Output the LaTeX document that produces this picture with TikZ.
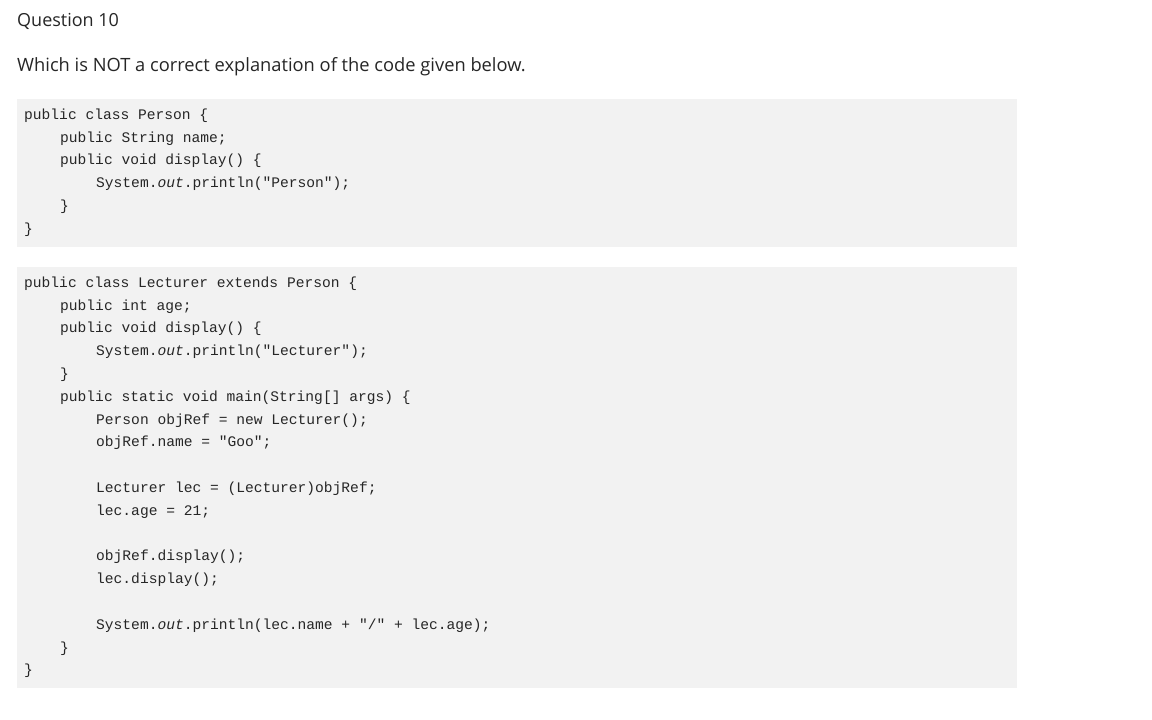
\documentclass[tikz,border=0pt]{standalone}
\usepackage{fontspec}
\setmainfont{Open Sans}
\setmonofont{Liberation Mono}
\begin{document}
\begin{tikzpicture}[x=1pt,y=-1pt,
  code/.style={anchor=west,inner sep=0pt,font=\fontsize{14.6}{16}\ttfamily,text=black!85},
  txt/.style={anchor=west,inner sep=0pt,text=black!85}]
\useasboundingbox (0,0) rectangle (1152,720);
\fill[white] (0,0) rectangle (1152,720);
\node[txt,font=\fontsize{18}{20}\selectfont] (t) at (17,21) {Question 10};
\node[txt,font=\fontsize{18.3}{20}\selectfont] (q) at (17,67) {Which is NOT a correct explanation of the code given below.};
\fill[black!5] (17,99) rectangle (1017,247);
\fill[black!5] (17,267) rectangle (1017,688);
\def\A{24}\def\B{60}\def\C{96}
\node[code] (a1) at (\A,116) {public class Person \{};
\node[code] (a2) at (\B,139) {public String name;};
\node[code] (a3) at (\B,161) {public void display() \{};
\node[code] (a4) at (\C,184) {System.\textit{out}.println("Person");};
\node[code] (a5) at (\B,207) {\}};
\node[code] (a6) at (\A,230) {\}};
\node[code] (b1) at (\A,284) {public class Lecturer extends Person \{};
\node[code] (b2) at (\B,307) {public int age;};
\node[code] (b3) at (\B,329) {public void display() \{};
\node[code] (b4) at (\C,352) {System.\textit{out}.println("Lecturer");};
\node[code] (b5) at (\B,375) {\}};
\node[code] (b6) at (\B,398) {public static void main(String[] args) \{};
\node[code] (b7) at (\C,421) {Person objRef = new Lecturer();};
\node[code] (b8) at (\C,443) {objRef.name = "Goo";};
\node[code] (b9) at (\C,489) {Lecturer lec = (Lecturer)objRef;};
\node[code] (b10) at (\C,512) {lec.age = 21;};
\node[code] (b11) at (\C,557) {objRef.display();};
\node[code] (b12) at (\C,580) {lec.display();};
\node[code] (b13) at (\C,626) {System.\textit{out}.println(lec.name + "/" + lec.age);};
\node[code] (b14) at (\B,649) {\}};
\node[code] (b15) at (\A,671) {\}};
\end{tikzpicture}
\end{document}
